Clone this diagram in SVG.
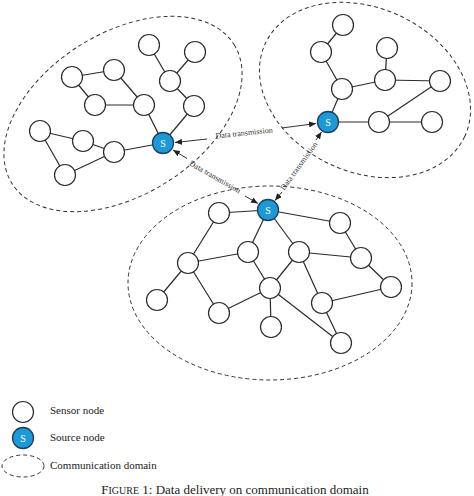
<svg xmlns="http://www.w3.org/2000/svg" width="474" height="496" viewBox="0 0 474 496">
<style>
.n{fill:#fff;stroke:#2b2b2b;stroke-width:1.2}
.s{fill:#1f98d6;stroke:#1c3f60;stroke-width:1.3}
.st{fill:#fff;font-family:"Liberation Serif",serif;font-size:10px;text-anchor:middle;dominant-baseline:central}
.e{stroke:#2b2b2b;stroke-width:1.2;fill:none}
.dom{fill:none;stroke:#333;stroke-width:1;stroke-dasharray:4 3}
.ar{stroke:#333;stroke-width:1;fill:none;marker-end:url(#ah)}
.lbl{font-family:"Liberation Serif",serif;font-size:8px;fill:#333;text-anchor:middle;dominant-baseline:central}
.leg{font-family:"Liberation Serif",serif;font-size:11px;fill:#222}
</style>
<defs>
<marker id="ah" markerUnits="userSpaceOnUse" markerWidth="7" markerHeight="6" refX="7" refY="3" orient="auto"><path d="M0,0 L7,3 L0,6 z" fill="#222"/></marker>
</defs>
<g id="domains">
<ellipse class="dom" cx="123" cy="114" rx="131" ry="81" transform="rotate(-32 123 114)"/>
<ellipse class="dom" cx="365" cy="90" rx="110" ry="82" transform="rotate(25 365 90)"/>
<ellipse class="dom" cx="270" cy="283" rx="142" ry="97"/>
</g>
<g id="connectors">
<line class="e" x1="149" y1="45" x2="170" y2="81"/>
<line class="e" x1="195" y1="52" x2="170" y2="81"/>
<line class="e" x1="170" y1="81" x2="194" y2="106"/>
<line class="e" x1="194" y1="106" x2="163" y2="143"/>
<line class="e" x1="72" y1="77" x2="114" y2="70"/>
<line class="e" x1="72" y1="77" x2="95" y2="105"/>
<line class="e" x1="95" y1="105" x2="144" y2="105"/>
<line class="e" x1="114" y1="70" x2="144" y2="105"/>
<line class="e" x1="144" y1="105" x2="163" y2="143"/>
<line class="e" x1="163" y1="143" x2="114" y2="152"/>
<line class="e" x1="114" y1="152" x2="83" y2="141"/>
<line class="e" x1="83" y1="141" x2="40" y2="131"/>
<line class="e" x1="40" y1="131" x2="65" y2="175"/>
<line class="e" x1="65" y1="175" x2="114" y2="152"/>
<line class="e" x1="343" y1="25" x2="321" y2="52"/>
<line class="e" x1="321" y1="52" x2="342" y2="89"/>
<line class="e" x1="342" y1="89" x2="328" y2="122"/>
<line class="e" x1="342" y1="89" x2="385" y2="80"/>
<line class="e" x1="387" y1="48" x2="385" y2="80"/>
<line class="e" x1="385" y1="80" x2="440" y2="81"/>
<line class="e" x1="440" y1="81" x2="379" y2="122"/>
<line class="e" x1="379" y1="122" x2="432" y2="122"/>
<line class="e" x1="328" y1="122" x2="379" y2="122"/>
<line class="e" x1="219" y1="213" x2="268" y2="210"/>
<line class="e" x1="268" y1="210" x2="340" y2="223"/>
<line class="e" x1="268" y1="210" x2="248" y2="252"/>
<line class="e" x1="268" y1="210" x2="299" y2="252"/>
<line class="e" x1="219" y1="213" x2="188" y2="263"/>
<line class="e" x1="188" y1="263" x2="248" y2="252"/>
<line class="e" x1="299" y1="252" x2="361" y2="258"/>
<line class="e" x1="340" y1="223" x2="361" y2="258"/>
<line class="e" x1="188" y1="263" x2="157" y2="300"/>
<line class="e" x1="188" y1="263" x2="219" y2="313"/>
<line class="e" x1="248" y1="252" x2="270" y2="288"/>
<line class="e" x1="299" y1="252" x2="270" y2="288"/>
<line class="e" x1="270" y1="288" x2="219" y2="313"/>
<line class="e" x1="270" y1="288" x2="271" y2="327"/>
<line class="e" x1="270" y1="288" x2="341" y2="343"/>
<line class="e" x1="299" y1="252" x2="322" y2="303"/>
<line class="e" x1="322" y1="303" x2="391" y2="287"/>
<line class="e" x1="361" y1="258" x2="391" y2="287"/>
<line class="e" x1="322" y1="303" x2="341" y2="343"/>
<line class="ar" x1="207" y1="139" x2="175" y2="142.5"/>
<line class="ar" x1="282" y1="128" x2="316" y2="123.5"/>
<text class="lbl" transform="translate(244 133) rotate(-6)">Data transmission</text>
<line class="ar" x1="187" y1="158.5" x2="173" y2="150"/>
<line class="ar" x1="245" y1="196" x2="258" y2="203.5"/>
<text class="lbl" transform="translate(215 177) rotate(30)">Data transmission</text>
<line class="ar" x1="282" y1="192" x2="275" y2="200.5"/>
<line class="ar" x1="316" y1="140" x2="321.5" y2="132"/>
<text class="lbl" transform="translate(299 166) rotate(-54)">Data transmission</text>
</g>
<g id="left-nodes">
<circle class="n" cx="149" cy="45" r="10.5"/>
<circle class="n" cx="195" cy="52" r="10.5"/>
<circle class="n" cx="170" cy="81" r="10.5"/>
<circle class="n" cx="194" cy="106" r="10.5"/>
<circle class="n" cx="114" cy="70" r="10.5"/>
<circle class="n" cx="72" cy="77" r="10.5"/>
<circle class="n" cx="95" cy="105" r="10.5"/>
<circle class="n" cx="144" cy="105" r="10.5"/>
<circle class="n" cx="40" cy="131" r="10.5"/>
<circle class="n" cx="83" cy="141" r="10.5"/>
<circle class="n" cx="114" cy="152" r="10.5"/>
<circle class="n" cx="65" cy="175" r="10.5"/>
</g>
<g id="source-1"><circle class="s" cx="163" cy="143" r="10.5"/><text class="st" x="163" y="143">S</text></g>
<g id="right-nodes">
<circle class="n" cx="343" cy="25" r="10.5"/>
<circle class="n" cx="321" cy="52" r="10.5"/>
<circle class="n" cx="342" cy="89" r="10.5"/>
<circle class="n" cx="387" cy="48" r="10.5"/>
<circle class="n" cx="385" cy="80" r="10.5"/>
<circle class="n" cx="440" cy="81" r="10.5"/>
<circle class="n" cx="379" cy="122" r="10.5"/>
<circle class="n" cx="432" cy="122" r="10.5"/>
</g>
<g id="source-2"><circle class="s" cx="328" cy="122" r="10.5"/><text class="st" x="328" y="122">S</text></g>
<g id="bottom-nodes">
<circle class="n" cx="219" cy="213" r="10.5"/>
<circle class="n" cx="340" cy="223" r="10.5"/>
<circle class="n" cx="248" cy="252" r="10.5"/>
<circle class="n" cx="299" cy="252" r="10.5"/>
<circle class="n" cx="188" cy="263" r="10.5"/>
<circle class="n" cx="361" cy="258" r="10.5"/>
<circle class="n" cx="270" cy="288" r="10.5"/>
<circle class="n" cx="391" cy="287" r="10.5"/>
<circle class="n" cx="157" cy="300" r="10.5"/>
<circle class="n" cx="322" cy="303" r="10.5"/>
<circle class="n" cx="219" cy="313" r="10.5"/>
<circle class="n" cx="271" cy="327" r="10.5"/>
<circle class="n" cx="341" cy="343" r="10.5"/>
</g>
<g id="source-3"><circle class="s" cx="268" cy="210" r="10.5"/><text class="st" x="268" y="210">S</text></g>
<g id="legend">
<circle class="n" cx="23" cy="412" r="10.5"/>
<text class="leg" x="50" y="414">Sensor node</text>
<circle class="s" cx="23" cy="438" r="10.5"/>
<text class="st" x="23" y="438">S</text>
<text class="leg" x="50" y="441">Source node</text>
<ellipse class="dom" cx="23" cy="466" rx="21" ry="11"/>
<text class="leg" x="50" y="469">Communication domain</text>
</g>
<text x="235" y="494" text-anchor="middle" font-family="Liberation Serif, serif" font-size="13" fill="#222">F<tspan font-size="10">IGURE</tspan> 1: Data delivery on communication domain</text>
</svg>
